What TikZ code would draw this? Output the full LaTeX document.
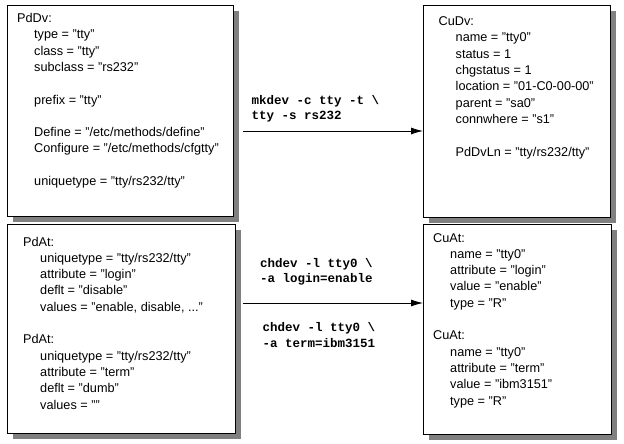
\documentclass[tikz,border=0pt]{standalone}
\usepackage{fontspec}
\setmainfont{Liberation Sans}
\newfontfamily\codefont{Liberation Mono}
\usetikzlibrary{arrows.meta,shadows}
\newcommand\ind{\hspace*{17pt}}
\tikzset{
  tablebox/.style={draw=black, line width=0.8pt, fill=white, inner sep=0pt, outer sep=0pt,
    anchor=north west,
    drop shadow={shadow xshift=6pt, shadow yshift=-6pt, fill=black!50, opacity=1}},
  fieldtext/.style={anchor=base west, inner sep=0pt, align=left,
    font=\fontsize{12.7}{16.3}\selectfont},
  cmdtext/.style={anchor=base west, inner sep=0pt,
    font=\codefont\bfseries\fontsize{12.5}{15.5}\selectfont},
  flow/.style={line width=0.8pt, -{Latex[length=12pt,width=7pt]}}
}
\begin{document}
\begin{tikzpicture}[x=1pt,y=-1pt]
\useasboundingbox (0,0) rectangle (624,444);
% boxes
\node[tablebox, minimum width=226pt, minimum height=211pt] (pddv) at (7,5) {};
\node[tablebox, minimum width=187pt, minimum height=212pt] (cudv) at (423,5) {};
\node[tablebox, minimum width=228pt, minimum height=209pt] (pdat) at (7,224) {};
\node[tablebox, minimum width=188pt, minimum height=210pt] (cuat) at (423,224) {};
% box texts
\node[fieldtext] (pddvtxt) at (17,22.6) {\begin{tabular}[t]{@{}l@{}}
PdDv:\\
\ind type = "tty"\\
\ind class = "tty"\\
\ind subclass = "rs232"\\
\\
\ind prefix = "tty"\\
\\
\ind Define = "/etc/methods/define"\\
\ind Configure = "/etc/methods/cfgtty"\\
\\
\ind uniquetype = "tty/rs232/tty"
\end{tabular}};
\node[fieldtext] (cudvtxt) at (438.5,25.7) {\begin{tabular}[t]{@{}l@{}}
CuDv:\\
\ind name = "tty0"\\
\ind status = 1\\
\ind chgstatus = 1\\
\ind location = "01-C0-00-00"\\
\ind parent = "sa0"\\
\ind connwhere = "s1"\\
\\
\ind PdDvLn = "tty/rs232/tty"
\end{tabular}};
\node[fieldtext] (pdattxt) at (23,246) {\begin{tabular}[t]{@{}l@{}}
PdAt:\\
\ind uniquetype = "tty/rs232/tty"\\
\ind attribute = "login"\\
\ind deflt = "disable"\\
\ind values = "enable, disable, ..."\\
\\
PdAt:\\
\ind uniquetype = "tty/rs232/tty"\\
\ind attribute = "term"\\
\ind deflt = "dumb"\\
\ind values = ""
\end{tabular}};
\node[fieldtext] (cuattxt) at (433,242) {\begin{tabular}[t]{@{}l@{}}
CuAt:\\
\ind name = "tty0"\\
\ind attribute = "login"\\
\ind value = "enable"\\
\ind type = "R"\\
\\
CuAt:\\
\ind name = "tty0"\\
\ind attribute = "term"\\
\ind value = "ibm3151"\\
\ind type = "R"
\end{tabular}};
% commands
\node[cmdtext] (mkdev) at (251.5,104) {\begin{tabular}[t]{@{}l@{}}
mkdev -c tty -t \textbackslash\\
tty -s rs232
\end{tabular}};
\node[cmdtext] (chdevlogin) at (260,267) {\begin{tabular}[t]{@{}l@{}}
chdev -l tty0 \textbackslash\\
-a login=enable
\end{tabular}};
\node[cmdtext] (chdevterm) at (262.5,331.5) {\begin{tabular}[t]{@{}l@{}}
chdev -l tty0 \textbackslash\\
-a term=ibm3151
\end{tabular}};
% connectors
\coordinate (a1s) at (243,131);
\coordinate (a2s) at (243,303);
\draw[flow] (a1s) -- (cudv.west |- a1s);
\draw[flow] (a2s) -- (cuat.west |- a2s);
\end{tikzpicture}
\end{document}
